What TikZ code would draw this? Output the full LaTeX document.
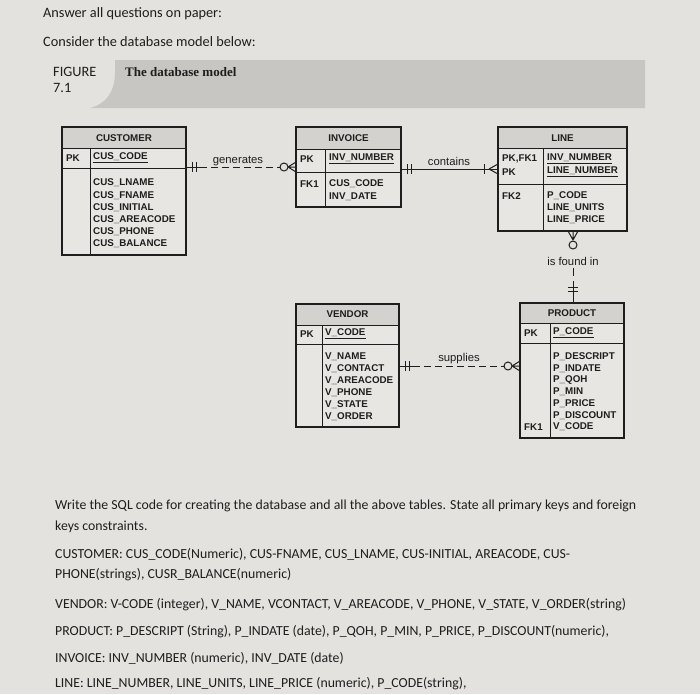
\documentclass[tikz,border=0pt]{standalone}
\usepackage{fontspec}
\setmainfont{Carlito}
\newfontfamily\arialf{Liberation Sans}
\newfontfamily\serift{Liberation Serif}
\usetikzlibrary{calc}
\definecolor{paper}{RGB}{228,226,223}
\definecolor{band}{RGB}{200,198,195}
\definecolor{hdrc}{RGB}{212,210,207}
\definecolor{body}{RGB}{232,230,227}
\definecolor{ink}{RGB}{30,30,30}
\tikzset{
  frame/.style={draw=ink, line width=1.1pt, inner sep=0pt, outer sep=0pt, anchor=north west},
  rule/.style={draw=ink, line width=1.0pt},
  conn/.style={draw=ink, line width=1.0pt},
  dashconn/.style={conn, dash pattern=on 7pt off 4pt},
  ttl/.style={font=\arialf\bfseries\fontsize{9.8}{10}\selectfont, text=ink, inner sep=0pt, anchor=center},
  att/.style={font=\arialf\bfseries\fontsize{9.8}{10}\selectfont, text=ink, inner sep=0pt, anchor=west},
  lbl/.style={font=\arialf\fontsize{11.3}{12}\selectfont, text=ink, inner sep=1pt},
  para/.style={font=\fontsize{13.8}{15}\selectfont, text=ink, inner sep=0pt, anchor=base west},
  head/.style={font=\fontsize{14.3}{16}\selectfont, text=ink, inner sep=0pt, anchor=base west},
}
\begin{document}
\begin{tikzpicture}[x=1pt,y=-1pt]
\useasboundingbox (0,0) rectangle (700,694);
\fill[paper] (0,0) rectangle (700,694);
% banner
\fill[band] (115,60) -- (645,60) -- (645,108) -- (90,108) .. controls (106,104) and (115,92) .. (115,72) -- cycle;
\node[head] (q1) at (43,17) {Answer all questions on paper:};
\node[head] (q2) at (43,46) {Consider the database model below:};
\node[head] (fig) at (53,76) {FIGURE};
\node[head] (fignum) at (53,92) {7.1};
\node[head, font=\serift\bfseries\fontsize{13}{15}\selectfont] (figttl) at (125,76) {The database model};

% ---------- CUSTOMER
\fill[body] (62,127) rectangle (186,255);
\fill[hdrc] (62,127) rectangle (186,148);
\draw[rule] (62,148) -- (186,148) (62,168) -- (186,168) (90,148) -- (90,255);
\node[frame, minimum width=124pt, minimum height=128pt] (cust) at (62,127) {};
\node[ttl] (custT) at (124,138) {CUSTOMER};
\node[att] (custPK) at (66,158) {PK};
\node[att] (custK) at (93,158) {\underline{CUS\_CODE}};
\node[att] (c1) at (93,183) {CUS\_LNAME};
\node[att] (c2) at (93,195.2) {CUS\_FNAME};
\node[att] (c3) at (93,207.4) {CUS\_INITIAL};
\node[att] (c4) at (93,219.6) {CUS\_AREACODE};
\node[att] (c5) at (93,231.8) {CUS\_PHONE};
\node[att] (c6) at (93,244) {CUS\_BALANCE};

% ---------- INVOICE
\fill[body] (296,127) rectangle (401,207);
\fill[hdrc] (296,127) rectangle (401,149);
\draw[rule] (296,149) -- (401,149) (296,172) -- (401,172) (325,149) -- (325,207);
\node[frame, minimum width=105pt, minimum height=80pt] (inv) at (296,127) {};
\node[ttl] (invT) at (348.5,138) {INVOICE};
\node[att] (invPK) at (300,159) {PK};
\node[att] (invK) at (329,159) {\underline{INV\_NUMBER}};
\node[att] (invFK) at (300,184) {FK1};
\node[att] (i1) at (329,184) {CUS\_CODE};
\node[att] (i2) at (329,197) {INV\_DATE};

% ---------- LINE
\fill[body] (498,127) rectangle (627,231);
\fill[hdrc] (498,127) rectangle (627,148);
\draw[rule] (498,148) -- (627,148) (498,184) -- (627,184) (543,148) -- (543,231);
\node[frame, minimum width=129pt, minimum height=104pt] (lne) at (498,127) {};
\node[ttl] (lneT) at (562.5,138) {LINE};
\node[att] (lnePK1) at (502,159) {PK,FK1};
\node[att] (lnePK2) at (502,172) {PK};
\node[att] (lneK1) at (547,159) {\underline{INV\_NUMBER}};
\node[att] (lneK2) at (547,172) {\underline{LINE\_NUMBER}};
\node[att] (lneFK) at (502,196) {FK2};
\node[att] (l1) at (547,196) {P\_CODE};
\node[att] (l2) at (547,208) {LINE\_UNITS};
\node[att] (l3) at (547,220) {LINE\_PRICE};

% ---------- VENDOR
\fill[body] (296,304) rectangle (399,427);
\fill[hdrc] (296,304) rectangle (399,325);
\draw[rule] (296,325) -- (399,325) (296,344) -- (399,344) (322,325) -- (322,427);
\node[frame, minimum width=103pt, minimum height=123pt] (ven) at (296,304) {};
\node[ttl] (venT) at (347.5,314) {VENDOR};
\node[att] (venPK) at (300,334) {PK};
\node[att] (venK) at (325,334) {\underline{V\_CODE}};
\node[att] (v1) at (325,357) {V\_NAME};
\node[att] (v2) at (325,369) {V\_CONTACT};
\node[att] (v3) at (325,381) {V\_AREACODE};
\node[att] (v4) at (325,393) {V\_PHONE};
\node[att] (v5) at (325,405) {V\_STATE};
\node[att] (v6) at (325,417) {V\_ORDER};

% ---------- PRODUCT
\fill[body] (520,303) rectangle (624,438);
\fill[hdrc] (520,303) rectangle (624,323);
\draw[rule] (520,323) -- (624,323) (520,343) -- (624,343) (550,323) -- (550,438);
\node[frame, minimum width=104pt, minimum height=135pt] (prod) at (520,303) {};
\node[ttl] (prodT) at (572,313) {PRODUCT};
\node[att] (prodPK) at (524,333) {PK};
\node[att] (prodK) at (553,333) {\underline{P\_CODE}};
\node[att] (p1) at (553,357) {P\_DESCRIPT};
\node[att] (p2) at (553,368.7) {P\_INDATE};
\node[att] (p3) at (553,380.3) {P\_QOH};
\node[att] (p4) at (553,392) {P\_MIN};
\node[att] (p5) at (553,403.7) {P\_PRICE};
\node[att] (p6) at (553,415.3) {P\_DISCOUNT};
\node[att] (p7) at (553,427) {V\_CODE};
\node[att] (prodFK) at (524,427) {FK1};

% ---------- relationships
% generates
\coordinate (yg) at (0,167);
\coordinate (g1) at (cust.east |- yg);
\coordinate (g2) at (inv.west |- yg);
\draw[conn] (g1) -- ($(g1)+(14,0)$);
\draw[conn] ($(g1)+(6,-5)$) -- ($(g1)+(6,5)$) ($(g1)+(10,-5)$) -- ($(g1)+(10,5)$);
\draw[dashconn] ($(g1)+(14,0)$) -- ($(g2)+(-16,0)$);
\draw[conn] ($(g2)+(-12,0)$) circle (4);
\draw[conn] ($(g2)+(-8,0)$) -- ($(g2)+(0,-5)$) ($(g2)+(-8,0)$) -- (g2) ($(g2)+(-8,0)$) -- ($(g2)+(0,5)$);
\node[lbl] (genL) at (238,161) {generates};

% contains
\coordinate (yc) at (0,169);
\coordinate (k1) at (inv.east |- yc);
\coordinate (k2) at (lne.west |- yc);
\draw[conn] (k1) -- (k2);
\draw[conn] ($(k1)+(6,-5)$) -- ($(k1)+(6,5)$) ($(k1)+(10,-5)$) -- ($(k1)+(10,5)$);
\draw[conn] ($(k2)+(-14,-5)$) -- ($(k2)+(-14,5)$);
\draw[conn] ($(k2)+(-9,0)$) -- ($(k2)+(0,-5)$) ($(k2)+(-9,0)$) -- ($(k2)+(0,5)$);
\node[lbl] (conL) at (449,161) {contains};

% is found in
\coordinate (xf) at (573,0);
\coordinate (f1) at (lne.south -| xf);
\coordinate (f2) at (prod.north -| xf);
\draw[conn] ($(f1)+(0,9)$) -- ($(f1)+(-5,0)$) ($(f1)+(0,9)$) -- (f1) ($(f1)+(0,9)$) -- ($(f1)+(5,0)$);
\draw[conn] ($(f1)+(0,14)$) circle (4);
\draw[conn] ($(f2)+(0,-35)$) -- ($(f2)+(0,-27)$);
\draw[conn] ($(f2)+(0,-22)$) -- (f2);
\draw[conn] ($(f2)+(-5,-16)$) -- ($(f2)+(5,-16)$) ($(f2)+(-5,-12)$) -- ($(f2)+(5,-12)$);
\node[lbl] (fndL) at (573,261) {is found in};

% supplies
\coordinate (ys) at (0,366);
\coordinate (s1) at (ven.east |- ys);
\coordinate (s2) at (prod.west |- ys);
\draw[conn] (s1) -- ($(s1)+(14,0)$);
\draw[conn] ($(s1)+(6,-5)$) -- ($(s1)+(6,5)$) ($(s1)+(10,-5)$) -- ($(s1)+(10,5)$);
\draw[dashconn] ($(s1)+(14,0)$) -- ($(s2)+(-16,0)$);
\draw[conn] ($(s2)+(-12,0)$) circle (4);
\draw[conn] ($(s2)+(-8,0)$) -- ($(s2)+(0,-5)$) ($(s2)+(-8,0)$) -- (s2) ($(s2)+(-8,0)$) -- ($(s2)+(0,5)$);
\node[lbl] (supL) at (459,359) {supplies};

% ---------- question text
\node[para] (t1) at (55,509) {Write the SQL code for creating the database and all the above tables. State all primary keys and foreign};
\node[para] (t2) at (55,530) {keys constraints.};
\node[para] (t3) at (55,558) {CUSTOMER: CUS\_CODE(Numeric), CUS-FNAME, CUS\_LNAME, CUS-INITIAL, AREACODE, CUS-};
\node[para] (t4) at (55,578) {PHONE(strings), CUSR\_BALANCE(numeric)};
\node[para] (t5) at (55,608) {VENDOR: V-CODE (integer), V\_NAME, VCONTACT, V\_AREACODE, V\_PHONE, V\_STATE, V\_ORDER(string)};
\node[para] (t6) at (55,635) {PRODUCT: P\_DESCRIPT (String), P\_INDATE (date), P\_QOH, P\_MIN, P\_PRICE, P\_DISCOUNT(numeric),};
\node[para] (t7) at (55,662) {INVOICE: INV\_NUMBER (numeric), INV\_DATE (date)};
\node[para] (t8) at (55,687) {LINE: LINE\_NUMBER, LINE\_UNITS, LINE\_PRICE (numeric), P\_CODE(string),};
\end{tikzpicture}
\end{document}
